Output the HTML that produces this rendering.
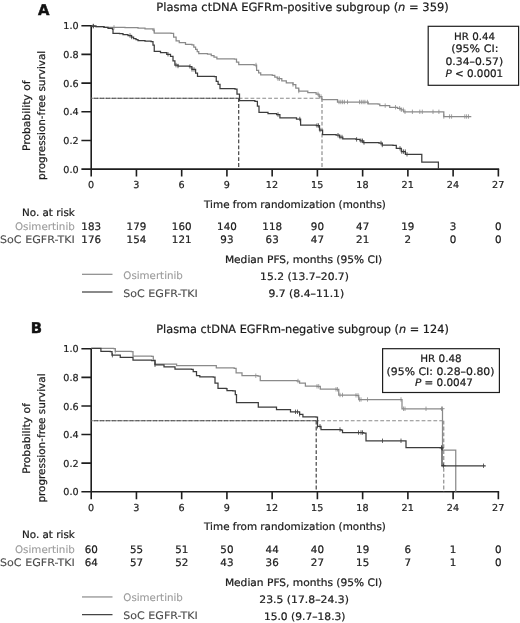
<!DOCTYPE html>
<html lang="en"><head><meta charset="utf-8"><title>Figure</title>
<style>
html,body{margin:0;padding:0;background:#fff;}
body{width:520px;height:623px;overflow:hidden;}
svg{display:block;font-family:"DejaVu Sans", Verdana, "Liberation Sans", sans-serif;}
text{stroke-width:0.22px;paint-order:stroke fill;}
text.k{stroke:#1a1a1a;}text.g{stroke:#9a9a9a;stroke-width:0.1px}text.d{stroke:#4a4a4a;stroke-width:0.1px}
</style></head><body>
<svg width="520" height="623" viewBox="0 0 520 623" text-rendering="geometricPrecision">
<rect width="520" height="623" fill="#fff"/>
<text x="38.0" y="14.5" font-size="14.8" font-weight="bold" fill="#111" stroke="#111" style="stroke-width:0.45px">A</text>
<text x="302.55" y="11.40" font-size="11.45" text-anchor="middle" textLength="292.5" lengthAdjust="spacingAndGlyphs" fill="#1a1a1a" class="k">Plasma ctDNA EGFRm-positive subgroup (<tspan font-style="italic">n</tspan> = 359)</text>
<path d="M91.20 24.95V176.60M81.40 169.10H499.16" stroke="#1e1e1e" stroke-width="1.6" fill="none"/>
<path d="M81.40 140.43H91.20M81.40 111.76H91.20M81.40 83.09H91.20M81.40 54.42H91.20M81.40 25.75H91.20M136.44 169.10V176.60M181.68 169.10V176.60M226.92 169.10V176.60M272.16 169.10V176.60M317.40 169.10V176.60M362.64 169.10V176.60M407.88 169.10V176.60M453.12 169.10V176.60M498.36 169.10V176.60" stroke="#1e1e1e" stroke-width="1.6" fill="none"/>
<text x="78.60" y="172.80" font-size="9.6" text-anchor="end" fill="#1a1a1a" class="k">0.0</text>
<text x="78.60" y="144.13" font-size="9.6" text-anchor="end" fill="#1a1a1a" class="k">0.2</text>
<text x="78.60" y="115.46" font-size="9.6" text-anchor="end" fill="#1a1a1a" class="k">0.4</text>
<text x="78.60" y="86.79" font-size="9.6" text-anchor="end" fill="#1a1a1a" class="k">0.6</text>
<text x="78.60" y="58.12" font-size="9.6" text-anchor="end" fill="#1a1a1a" class="k">0.8</text>
<text x="78.60" y="29.45" font-size="9.6" text-anchor="end" fill="#1a1a1a" class="k">1.0</text>
<text x="91.00" y="188.10" font-size="9.6" text-anchor="middle" fill="#1a1a1a" class="k">0</text>
<text x="136.24" y="188.10" font-size="9.6" text-anchor="middle" fill="#1a1a1a" class="k">3</text>
<text x="181.48" y="188.10" font-size="9.6" text-anchor="middle" fill="#1a1a1a" class="k">6</text>
<text x="226.72" y="188.10" font-size="9.6" text-anchor="middle" fill="#1a1a1a" class="k">9</text>
<text x="271.96" y="188.10" font-size="9.6" text-anchor="middle" fill="#1a1a1a" class="k">12</text>
<text x="317.20" y="188.10" font-size="9.6" text-anchor="middle" fill="#1a1a1a" class="k">15</text>
<text x="362.44" y="188.10" font-size="9.6" text-anchor="middle" fill="#1a1a1a" class="k">18</text>
<text x="407.68" y="188.10" font-size="9.6" text-anchor="middle" fill="#1a1a1a" class="k">21</text>
<text x="452.92" y="188.10" font-size="9.6" text-anchor="middle" fill="#1a1a1a" class="k">24</text>
<text x="498.16" y="188.10" font-size="9.6" text-anchor="middle" fill="#1a1a1a" class="k">27</text>
<text class="k" transform="translate(30.00 115.80) rotate(-90)" font-size="10.3" text-anchor="middle" textLength="70.6" lengthAdjust="spacingAndGlyphs" fill="#1a1a1a">Probability of</text>
<text class="k" transform="translate(45.00 115.35) rotate(-90)" font-size="10.3" text-anchor="middle" textLength="129.1" lengthAdjust="spacingAndGlyphs" fill="#1a1a1a">progression-free survival</text>
<text x="295.00" y="207.70" font-size="10.3" text-anchor="middle" textLength="181.8" lengthAdjust="spacingAndGlyphs" fill="#1a1a1a" class="k">Time from randomization (months)</text>
<path d="M91.20 98.22H322.00M322.00 98.22V169.10" stroke="#8a8a8a" stroke-width="1.15" stroke-dasharray="3.8 2.1" fill="none"/>
<path d="M91.20 98.22H238.70" stroke="#3c3c3c" stroke-width="1.15" stroke-dasharray="3.8 2.1" stroke-dashoffset="2.9" fill="none"/>
<path d="M238.70 98.22V169.10" stroke="#3c3c3c" stroke-width="1.15" stroke-dasharray="3.8 2.1" fill="none"/>
<path d="M91.50 26.00H96.00V26.50H104.00V27.40H125.00V27.70H138.00V28.00H145.00V28.80H153.00V30.10H154.25V33.00H171.10V33.30H173.60V37.00H176.10V40.75H179.25V42.60H185.50V44.40H191.90V44.80H193.80V47.00H195.60V49.40H197.20V51.50H198.75V53.50H207.50V54.20H211.25V55.60H214.00V57.20H216.90V58.75H234.40V59.20H236.50V62.00H238.75V64.60H254.10V65.00H256.60V70.40H258.60V72.80H260.70V74.90H272.30V75.30H274.80V77.00H277.25V78.70H281.80V80.80H286.30V82.80H293.00V84.50H295.80V88.00H298.75V91.00H307.80V92.70H316.10V94.00H319.00V96.50H321.90V99.60H337.50V102.00H368.20V103.90H378.10V104.20H379.80V105.60H389.70V107.25H397.50V108.30H401.00V109.80H403.70V111.80H443.80V116.50H471.30" stroke="#8a8a8a" stroke-width="1.25" fill="none"/>
<path d="M93.30 23.80V28.20M114.00 25.20V29.60M154.00 27.90V32.30M256.00 62.80V67.20M278.00 76.50V80.90M279.50 76.50V80.90M293.00 82.30V86.70M298.80 88.80V93.20M318.00 91.80V96.20M319.50 94.30V98.70M321.00 94.30V98.70M339.00 99.80V104.20M340.80 99.80V104.20M342.60 99.80V104.20M344.40 99.80V104.20M347.50 99.80V104.20M359.50 99.80V104.20M361.30 99.80V104.20M363.10 99.80V104.20M364.90 99.80V104.20M367.40 99.80V104.20M385.20 103.40V107.80M395.50 105.05V109.45M399.60 106.10V110.50M401.30 107.60V112.00M403.30 107.60V112.00M405.00 109.60V114.00M412.40 109.60V114.00M419.80 109.60V114.00M422.30 109.60V114.00M433.00 109.60V114.00M438.90 109.60V114.00M443.80 114.30V118.70M449.60 114.30V118.70M451.60 114.30V118.70M464.80 114.30V118.70M466.60 114.30V118.70M468.50 114.30V118.70" stroke="#8a8a8a" stroke-width="0.8" fill="none"/>
<path d="M91.50 26.00H96.00V26.50H104.00V27.40H108.00V28.30H112.50V29.25H113.00V33.25H119.50V33.60H123.00V34.50H128.00V35.50H131.50V37.00H133.60V38.60H136.00V39.70H138.00V40.50H145.00V41.00H151.10V41.50H153.00V45.10H154.25V51.40H160.50V52.60H166.75V54.25H170.50V56.40H173.00V60.75H174.90V65.10H178.00V66.00H189.40V66.50H191.90V69.40H195.60V73.10H197.50V76.25H214.40V76.70H216.25V81.25H218.10V84.40H220.00V88.50H235.00V89.20H237.00V94.00H239.50V100.60H254.90V101.40H257.40V106.00H259.00V112.25H268.00V113.50H276.60V114.55H279.90V117.90H296.50V119.00H300.60V125.10H316.30V125.50H319.50V130.00H322.60V134.70H336.10V135.20H339.50V137.00H342.80V138.90H356.00V139.40H360.00V140.80H363.20V142.50H379.00V143.00H382.25V145.00H393.00V145.40H396.30V148.30H401.30V151.60H405.40V154.30H421.80V162.20H438.40V169.10" stroke="#3c3c3c" stroke-width="1.25" fill="none"/>
<path d="M130.00 33.30V37.70M131.70 34.80V39.20M168.00 52.05V56.45M176.00 62.90V67.30M178.00 63.80V68.20M190.00 64.30V68.70M192.00 67.20V71.60M194.00 67.20V71.60M278.00 112.35V116.75M299.80 116.80V121.20M317.00 123.30V127.70M318.50 123.30V127.70M320.00 127.80V132.20M338.00 133.00V137.40M340.00 134.80V139.20M342.00 134.80V139.20M356.60 137.20V141.60M361.00 138.60V143.00M362.50 138.60V143.00M364.00 140.30V144.70M381.00 140.80V145.20M382.30 142.80V147.20M400.00 146.10V150.50M401.80 149.40V153.80M403.50 149.40V153.80M405.30 149.40V153.80M407.00 152.10V156.50" stroke="#3c3c3c" stroke-width="0.8" fill="none"/>
<path d="M91.10 26.10H95.50M93.30 23.90V28.30" stroke="#3c3c3c" stroke-width="0.9" fill="none"/>
<rect x="428.2" y="26.3" width="90.4" height="59.0" fill="#fff" stroke="#1e1e1e" stroke-width="1.2"/>
<text x="474.60" y="40.20" font-size="10.3" text-anchor="middle" textLength="41.0" lengthAdjust="spacingAndGlyphs" fill="#1a1a1a" class="k">HR 0.44</text>
<text x="474.80" y="52.40" font-size="10.3" text-anchor="middle" textLength="47.2" lengthAdjust="spacingAndGlyphs" fill="#1a1a1a" class="k">(95% CI:</text>
<text x="474.35" y="64.80" font-size="10.3" text-anchor="middle" textLength="57.7" lengthAdjust="spacingAndGlyphs" fill="#1a1a1a" class="k">0.34–0.57)</text>
<text x="474.35" y="77.10" font-size="10.3" text-anchor="middle" textLength="57.7" lengthAdjust="spacingAndGlyphs" fill="#1a1a1a" class="k"><tspan font-style="italic">P</tspan> &lt; 0.0001</text>
<text x="48.40" y="215.50" font-size="10.3" text-anchor="middle" textLength="52.8" lengthAdjust="spacingAndGlyphs" fill="#1a1a1a" class="k">No. at risk</text>
<text x="44.90" y="229.90" font-size="10.3" text-anchor="middle" textLength="59.8" lengthAdjust="spacingAndGlyphs" fill="#9a9a9a" class="g">Osimertinib</text>
<text x="37.40" y="243.40" font-size="10.3" text-anchor="middle" textLength="74.8" lengthAdjust="spacingAndGlyphs" fill="#4a4a4a" class="d">SoC EGFR-TKI</text>
<text x="91.20" y="229.90" font-size="10.3" text-anchor="middle" fill="#1a1a1a" class="k">183</text>
<text x="91.20" y="243.40" font-size="10.3" text-anchor="middle" fill="#1a1a1a" class="k">176</text>
<text x="136.44" y="229.90" font-size="10.3" text-anchor="middle" fill="#1a1a1a" class="k">179</text>
<text x="136.44" y="243.40" font-size="10.3" text-anchor="middle" fill="#1a1a1a" class="k">154</text>
<text x="181.68" y="229.90" font-size="10.3" text-anchor="middle" fill="#1a1a1a" class="k">160</text>
<text x="181.68" y="243.40" font-size="10.3" text-anchor="middle" fill="#1a1a1a" class="k">121</text>
<text x="226.92" y="229.90" font-size="10.3" text-anchor="middle" fill="#1a1a1a" class="k">140</text>
<text x="226.92" y="243.40" font-size="10.3" text-anchor="middle" fill="#1a1a1a" class="k">93</text>
<text x="272.16" y="229.90" font-size="10.3" text-anchor="middle" fill="#1a1a1a" class="k">118</text>
<text x="272.16" y="243.40" font-size="10.3" text-anchor="middle" fill="#1a1a1a" class="k">63</text>
<text x="317.40" y="229.90" font-size="10.3" text-anchor="middle" fill="#1a1a1a" class="k">90</text>
<text x="317.40" y="243.40" font-size="10.3" text-anchor="middle" fill="#1a1a1a" class="k">47</text>
<text x="362.64" y="229.90" font-size="10.3" text-anchor="middle" fill="#1a1a1a" class="k">47</text>
<text x="362.64" y="243.40" font-size="10.3" text-anchor="middle" fill="#1a1a1a" class="k">21</text>
<text x="407.88" y="229.90" font-size="10.3" text-anchor="middle" fill="#1a1a1a" class="k">19</text>
<text x="407.88" y="243.40" font-size="10.3" text-anchor="middle" fill="#1a1a1a" class="k">2</text>
<text x="453.12" y="229.90" font-size="10.3" text-anchor="middle" fill="#1a1a1a" class="k">3</text>
<text x="453.12" y="243.40" font-size="10.3" text-anchor="middle" fill="#1a1a1a" class="k">0</text>
<text x="498.36" y="229.90" font-size="10.3" text-anchor="middle" fill="#1a1a1a" class="k">0</text>
<text x="498.36" y="243.40" font-size="10.3" text-anchor="middle" fill="#1a1a1a" class="k">0</text>
<text x="303.60" y="263.20" font-size="10.3" text-anchor="middle" textLength="157.4" lengthAdjust="spacingAndGlyphs" fill="#1a1a1a" class="k">Median PFS, months (95% CI)</text>
<path d="M82 274.30H112.5" stroke="#8a8a8a" stroke-width="1.2"/>
<path d="M82 292.00H112.5" stroke="#3c3c3c" stroke-width="1.2"/>
<text x="153.10" y="278.80" font-size="10.3" text-anchor="middle" textLength="59.6" lengthAdjust="spacingAndGlyphs" fill="#9a9a9a" class="g">Osimertinib</text>
<text x="160.55" y="296.80" font-size="10.3" text-anchor="middle" textLength="74.5" lengthAdjust="spacingAndGlyphs" fill="#4a4a4a" class="d">SoC EGFR-TKI</text>
<text x="304.50" y="280.10" font-size="10.3" text-anchor="middle" textLength="88.8" lengthAdjust="spacingAndGlyphs" fill="#1a1a1a" class="k">15.2 (13.7–20.7)</text>
<text x="306.35" y="297.10" font-size="10.3" text-anchor="middle" textLength="75.7" lengthAdjust="spacingAndGlyphs" fill="#1a1a1a" class="k">9.7 (8.4–11.1)</text>
<text x="30.8" y="332.5" font-size="14.8" font-weight="bold" fill="#111" stroke="#111" style="stroke-width:0.45px">B</text>
<text x="302.55" y="332.50" font-size="11.45" text-anchor="middle" textLength="292.5" lengthAdjust="spacingAndGlyphs" fill="#1a1a1a" class="k">Plasma ctDNA EGFRm-negative subgroup (<tspan font-style="italic">n</tspan> = 124)</text>
<path d="M91.20 347.95V499.25M81.40 491.75H499.16" stroke="#1e1e1e" stroke-width="1.6" fill="none"/>
<path d="M81.40 463.15H91.20M81.40 434.55H91.20M81.40 405.95H91.20M81.40 377.35H91.20M81.40 348.75H91.20M136.44 491.75V499.25M181.68 491.75V499.25M226.92 491.75V499.25M272.16 491.75V499.25M317.40 491.75V499.25M362.64 491.75V499.25M407.88 491.75V499.25M453.12 491.75V499.25M498.36 491.75V499.25" stroke="#1e1e1e" stroke-width="1.6" fill="none"/>
<text x="78.60" y="495.45" font-size="9.6" text-anchor="end" fill="#1a1a1a" class="k">0.0</text>
<text x="78.60" y="466.85" font-size="9.6" text-anchor="end" fill="#1a1a1a" class="k">0.2</text>
<text x="78.60" y="438.25" font-size="9.6" text-anchor="end" fill="#1a1a1a" class="k">0.4</text>
<text x="78.60" y="409.65" font-size="9.6" text-anchor="end" fill="#1a1a1a" class="k">0.6</text>
<text x="78.60" y="381.05" font-size="9.6" text-anchor="end" fill="#1a1a1a" class="k">0.8</text>
<text x="78.60" y="352.45" font-size="9.6" text-anchor="end" fill="#1a1a1a" class="k">1.0</text>
<text x="91.00" y="510.75" font-size="9.6" text-anchor="middle" fill="#1a1a1a" class="k">0</text>
<text x="136.24" y="510.75" font-size="9.6" text-anchor="middle" fill="#1a1a1a" class="k">3</text>
<text x="181.48" y="510.75" font-size="9.6" text-anchor="middle" fill="#1a1a1a" class="k">6</text>
<text x="226.72" y="510.75" font-size="9.6" text-anchor="middle" fill="#1a1a1a" class="k">9</text>
<text x="271.96" y="510.75" font-size="9.6" text-anchor="middle" fill="#1a1a1a" class="k">12</text>
<text x="317.20" y="510.75" font-size="9.6" text-anchor="middle" fill="#1a1a1a" class="k">15</text>
<text x="362.44" y="510.75" font-size="9.6" text-anchor="middle" fill="#1a1a1a" class="k">18</text>
<text x="407.68" y="510.75" font-size="9.6" text-anchor="middle" fill="#1a1a1a" class="k">21</text>
<text x="452.92" y="510.75" font-size="9.6" text-anchor="middle" fill="#1a1a1a" class="k">24</text>
<text x="498.16" y="510.75" font-size="9.6" text-anchor="middle" fill="#1a1a1a" class="k">27</text>
<text class="k" transform="translate(30.00 438.45) rotate(-90)" font-size="10.3" text-anchor="middle" textLength="70.6" lengthAdjust="spacingAndGlyphs" fill="#1a1a1a">Probability of</text>
<text class="k" transform="translate(45.00 438.00) rotate(-90)" font-size="10.3" text-anchor="middle" textLength="129.1" lengthAdjust="spacingAndGlyphs" fill="#1a1a1a">progression-free survival</text>
<text x="295.00" y="530.35" font-size="10.3" text-anchor="middle" textLength="181.8" lengthAdjust="spacingAndGlyphs" fill="#1a1a1a" class="k">Time from randomization (months)</text>
<path d="M91.20 420.70H443.75M443.75 420.70V491.75" stroke="#8a8a8a" stroke-width="1.15" stroke-dasharray="3.8 2.1" fill="none"/>
<path d="M91.20 420.70H316.20" stroke="#3c3c3c" stroke-width="1.15" stroke-dasharray="3.8 2.1" stroke-dashoffset="2.9" fill="none"/>
<path d="M316.20 420.70V491.75" stroke="#3c3c3c" stroke-width="1.15" stroke-dasharray="3.8 2.1" fill="none"/>
<path d="M91.20 348.40H113.60V348.60H115.30V351.25H131.30V351.60H133.00V356.00H151.70V356.40H153.30V360.00H155.00V364.00H176.60V365.70H216.30V367.90H234.20V368.30H236.10V372.80H242.00V375.70H258.00V376.00H260.25V380.50H297.10V381.00H299.60V383.20H305.40V386.00H317.00V386.30H320.30V389.10H336.00V389.30H338.75V395.00H356.00V395.30H358.75V399.50H402.00V408.75H442.50V450.00H455.75V491.75" stroke="#8a8a8a" stroke-width="1.25" fill="none"/>
<path d="M115.30 349.05V353.45M255.80 373.50V377.90M298.00 378.80V383.20M317.00 384.10V388.50M318.70 384.10V388.50M336.00 387.10V391.50M337.50 387.10V391.50M340.00 392.80V397.20M342.50 392.80V397.20M356.00 393.10V397.50M358.00 393.10V397.50M359.50 397.30V401.70M361.00 397.30V401.70M367.50 397.30V401.70M401.00 397.30V401.70M403.50 406.55V410.95M405.00 406.55V410.95M426.00 406.55V410.95M441.50 406.55V410.95" stroke="#8a8a8a" stroke-width="0.8" fill="none"/>
<path d="M91.20 348.40H100.90V351.25H110.30V351.50H112.00V355.20H120.25V357.40H133.00V360.20H151.70V360.50H155.00V364.80H164.00V366.80H175.00V369.00H191.50V369.30H193.20V371.50H196.50V375.60H199.80V376.80H213.30V377.20H215.00V383.00H218.00V388.40H226.20V388.70H227.00V390.50H232.80V390.80H235.30V394.70H236.50V402.60H258.30V407.20H276.50V409.70H290.50V411.80H299.60V414.30H302.90V416.80H316.10V417.20H317.50V426.25H321.00V429.50H341.00V430.00H342.50V432.50H363.75V433.00H366.00V440.75H406.00V447.50H442.00V465.75H485.70" stroke="#3c3c3c" stroke-width="1.25" fill="none"/>
<path d="M112.40 353.00V357.40M155.00 362.60V367.00M295.50 409.60V414.00M297.50 409.60V414.00M299.60 412.10V416.50M317.50 424.05V428.45M320.00 424.05V428.45M340.00 427.30V431.70M358.50 430.30V434.70M361.00 430.30V434.70M362.50 430.30V434.70M382.50 438.55V442.95M401.00 438.55V442.95M441.50 445.30V449.70M483.50 463.55V467.95" stroke="#3c3c3c" stroke-width="0.8" fill="none"/>
<path d="M440.20 408.70H444.60M442.40 406.50V410.90" stroke="#8a8a8a" stroke-width="0.9" fill="none"/>
<path d="M439.60 448.00H444.00M441.80 445.80V450.20" stroke="#3c3c3c" stroke-width="0.9" fill="none"/>
<path d="M441.20 465.70H445.60M443.40 463.50V467.90" stroke="#3c3c3c" stroke-width="0.9" fill="none"/>
<rect x="382.6" y="348.7" width="116.8" height="43.8" fill="#fff" stroke="#1e1e1e" stroke-width="1.2"/>
<text x="441.00" y="362.30" font-size="10.3" text-anchor="middle" textLength="41.4" lengthAdjust="spacingAndGlyphs" fill="#1a1a1a" class="k">HR 0.48</text>
<text x="440.55" y="374.50" font-size="10.3" text-anchor="middle" textLength="107.9" lengthAdjust="spacingAndGlyphs" fill="#1a1a1a" class="k">(95% CI: 0.28–0.80)</text>
<text x="443.95" y="386.40" font-size="10.3" text-anchor="middle" textLength="58.1" lengthAdjust="spacingAndGlyphs" fill="#1a1a1a" class="k"><tspan font-style="italic">P</tspan> = 0.0047</text>
<text x="48.40" y="538.15" font-size="10.3" text-anchor="middle" textLength="52.8" lengthAdjust="spacingAndGlyphs" fill="#1a1a1a" class="k">No. at risk</text>
<text x="44.90" y="552.55" font-size="10.3" text-anchor="middle" textLength="59.8" lengthAdjust="spacingAndGlyphs" fill="#9a9a9a" class="g">Osimertinib</text>
<text x="37.40" y="566.05" font-size="10.3" text-anchor="middle" textLength="74.8" lengthAdjust="spacingAndGlyphs" fill="#4a4a4a" class="d">SoC EGFR-TKI</text>
<text x="91.20" y="552.55" font-size="10.3" text-anchor="middle" fill="#1a1a1a" class="k">60</text>
<text x="91.20" y="566.05" font-size="10.3" text-anchor="middle" fill="#1a1a1a" class="k">64</text>
<text x="136.44" y="552.55" font-size="10.3" text-anchor="middle" fill="#1a1a1a" class="k">55</text>
<text x="136.44" y="566.05" font-size="10.3" text-anchor="middle" fill="#1a1a1a" class="k">57</text>
<text x="181.68" y="552.55" font-size="10.3" text-anchor="middle" fill="#1a1a1a" class="k">51</text>
<text x="181.68" y="566.05" font-size="10.3" text-anchor="middle" fill="#1a1a1a" class="k">52</text>
<text x="226.92" y="552.55" font-size="10.3" text-anchor="middle" fill="#1a1a1a" class="k">50</text>
<text x="226.92" y="566.05" font-size="10.3" text-anchor="middle" fill="#1a1a1a" class="k">43</text>
<text x="272.16" y="552.55" font-size="10.3" text-anchor="middle" fill="#1a1a1a" class="k">44</text>
<text x="272.16" y="566.05" font-size="10.3" text-anchor="middle" fill="#1a1a1a" class="k">36</text>
<text x="317.40" y="552.55" font-size="10.3" text-anchor="middle" fill="#1a1a1a" class="k">40</text>
<text x="317.40" y="566.05" font-size="10.3" text-anchor="middle" fill="#1a1a1a" class="k">27</text>
<text x="362.64" y="552.55" font-size="10.3" text-anchor="middle" fill="#1a1a1a" class="k">19</text>
<text x="362.64" y="566.05" font-size="10.3" text-anchor="middle" fill="#1a1a1a" class="k">15</text>
<text x="407.88" y="552.55" font-size="10.3" text-anchor="middle" fill="#1a1a1a" class="k">6</text>
<text x="407.88" y="566.05" font-size="10.3" text-anchor="middle" fill="#1a1a1a" class="k">7</text>
<text x="453.12" y="552.55" font-size="10.3" text-anchor="middle" fill="#1a1a1a" class="k">1</text>
<text x="453.12" y="566.05" font-size="10.3" text-anchor="middle" fill="#1a1a1a" class="k">1</text>
<text x="498.36" y="552.55" font-size="10.3" text-anchor="middle" fill="#1a1a1a" class="k">0</text>
<text x="498.36" y="566.05" font-size="10.3" text-anchor="middle" fill="#1a1a1a" class="k">0</text>
<text x="303.60" y="585.85" font-size="10.3" text-anchor="middle" textLength="157.4" lengthAdjust="spacingAndGlyphs" fill="#1a1a1a" class="k">Median PFS, months (95% CI)</text>
<path d="M82 596.95H112.5" stroke="#8a8a8a" stroke-width="1.2"/>
<path d="M82 614.65H112.5" stroke="#3c3c3c" stroke-width="1.2"/>
<text x="153.10" y="601.45" font-size="10.3" text-anchor="middle" textLength="59.6" lengthAdjust="spacingAndGlyphs" fill="#9a9a9a" class="g">Osimertinib</text>
<text x="160.55" y="619.45" font-size="10.3" text-anchor="middle" textLength="74.5" lengthAdjust="spacingAndGlyphs" fill="#4a4a4a" class="d">SoC EGFR-TKI</text>
<text x="304.10" y="602.75" font-size="10.3" text-anchor="middle" textLength="89.6" lengthAdjust="spacingAndGlyphs" fill="#1a1a1a" class="k">23.5 (17.8–24.3)</text>
<text x="304.70" y="619.75" font-size="10.3" text-anchor="middle" textLength="81.6" lengthAdjust="spacingAndGlyphs" fill="#1a1a1a" class="k">15.0 (9.7–18.3)</text>
</svg>
</body></html>
